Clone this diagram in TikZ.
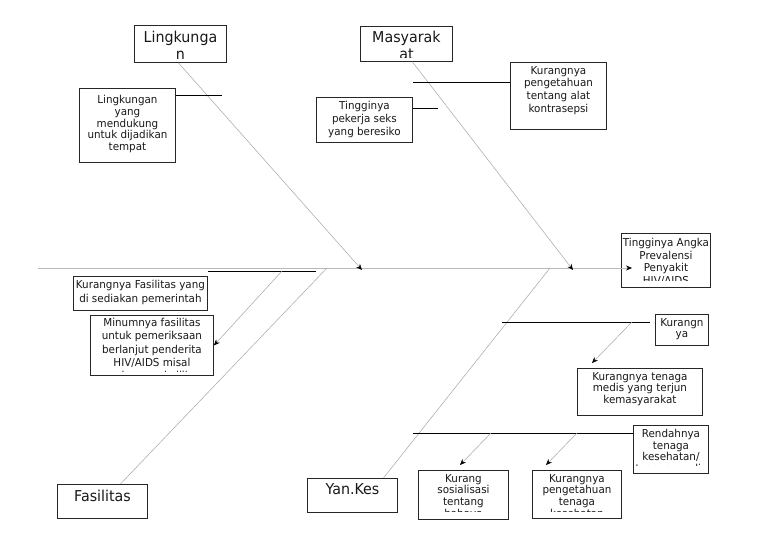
\documentclass[tikz,border=0pt]{standalone}
\usepackage{fontspec}
\setmainfont{DejaVu Sans}[FakeStretch=0.95]
\usetikzlibrary{arrows.meta}
\tikzset{
  boxst/.style={draw=black!85, line width=0.9pt, inner sep=0pt, anchor=north west},
  bone/.style={draw=gray!70, line width=0.5pt},
  twig/.style={draw=black, line width=0.9pt},
  arr/.style={-{Stealth[length=6pt,width=5pt,black]}},
  small/.style={font=\fontsize{10.9}{#1}\selectfont},
  big/.style={font=\fontsize{15}{17}\selectfont}
}
% #1 name, #2 x1, #3 y1, #4 x2, #5 y2, #6 top offset, #7 text style, #8 text, #9 bottom clip inset
\newcommand\fishbox[9]{%
  \node[boxst, minimum width=#4pt-#2pt, minimum height=#5pt-#3pt] (#1) at (#2,#3) {};
  \begin{scope}
    \clip ([yshift=#9pt]#1.south west) rectangle (#1.north east);
    \node[anchor=north, align=center, inner sep=0pt, text=black!90, #7] at ([yshift=-#6pt]#1.north) {#8};
  \end{scope}}
\begin{document}
\begin{tikzpicture}[x=1pt,y=-1pt]
\fill[white] (0,0) rectangle (768,543);
\useasboundingbox (0,0) rectangle (768,543);

% boxes
\fishbox{ling}{134}{25}{226}{62}{6}{big}{Lingkunga\\n}{4}
\fishbox{masy}{360}{26}{452}{61}{5}{big}{Masyarak\\at}{4}
\fishbox{fasil}{57}{484}{147}{518}{6}{big}{Fasilitas}{2}
\fishbox{yankes}{307}{478}{397}{512}{5}{big}{Yan.Kes}{2}
\fishbox{effect}{621}{233}{710}{287}{5}{small=12.7}{Tingginya Angka\\Prevalensi\\Penyakit\\HIV/AIDS}{7}
\fishbox{lingsub}{79}{88}{175}{162}{7}{small=11.8}{Lingkungan\\yang\\mendukung\\untuk dijadikan\\tempat}{2}
\fishbox{peksub}{316}{97}{412}{142}{4}{small=13}{Tingginya\\pekerja seks\\yang beresiko}{2}
\fishbox{alatsub}{510}{62}{606}{129}{4}{small=12.8}{Kurangnya\\pengetahuan\\tentang alat\\kontrasepsi}{2}
\fishbox{fassub}{73}{276}{207}{310}{4}{small=14}{Kurangnya Fasilitas yang\\di sediakan pemerintah}{2}
\fishbox{minsub}{90}{315}{213}{375}{3}{small=13.3}{Minumnya fasilitas\\untuk pemeriksaan\\berlanjut penderita\\HIV/AIDS misal\\puskesmas keliling}{4}
\fishbox{kur1}{655}{314}{708}{345}{4}{small=11.7}{Kurangn\\ya}{2}
\fishbox{medis}{577}{368}{702}{415}{4}{small=11.7}{Kurangnya tenaga\\medis yang terjun\\kemasyarakat}{2}
\fishbox{rendah}{633}{425}{708}{473}{4}{small=11.7}{Rendahnya\\tenaga\\kesehatan/\\tenaga medis}{8}
\fishbox{sosial}{418}{470}{508}{519}{4}{small=11.7}{Kurang\\sosialisasi\\tentang\\bahaya}{8}
\fishbox{tenaga}{532}{470}{621}{518}{4}{small=11.7}{Kurangnya\\pengetahuan\\tenaga\\kesehatan}{7}

% coordinates
\coordinate (spineL) at (38,268);
\coordinate (spineR) at (632,268);
\coordinate (hL) at (362,270);
\coordinate (hM) at (573,270);
\coordinate (hF) at (327,268);
\coordinate (hY) at (550,268);
\coordinate (b1) at (222,95);
\coordinate (b2) at (438,108);
\coordinate (b3) at (413,82);
\coordinate (b4) at (316,271);
\coordinate (b4s) at (282,271);
\coordinate (b5) at (502,322);
\coordinate (b5e) at (650,322);
\coordinate (b5s) at (632,322);
\coordinate (b5t) at (592,363);
\coordinate (b6) at (413,433);
\coordinate (b6a) at (491,433);
\coordinate (b6at) at (460,465);
\coordinate (b6b) at (577,433);
\coordinate (b6bt) at (546,465);

% spine
\draw[bone, draw=gray!55, arr] (spineL) -- (spineR);

% main bones
\draw[bone, arr] ([xshift=-2pt]ling.south) -- (hL);
\draw[bone, arr] ([xshift=6pt]masy.south) -- (hM);
\draw[bone] ([xshift=18pt]fasil.north) -- (hF);
\draw[bone] ([xshift=31pt]yankes.north) -- (hY);

% sub-cause twigs
\draw[twig] (b1) -- (b1 -| lingsub.east);
\draw[twig] (b2) -- (b2 -| peksub.east);
\draw[twig] (b3) -- (b3 -| alatsub.west);
\draw[twig] (b4) -- (b4 -| fassub.east);
\draw[bone, arr] (b4s) -- (minsub.east);
\draw[twig] (b5) -- (b5e);
\draw[bone, arr] (b5s) -- (b5t);
\draw[twig] (b6) -- (b6 -| rendah.west);
\draw[bone, arr] (b6a) -- (b6at);
\draw[bone, arr] (b6b) -- (b6bt);
\end{tikzpicture}
\end{document}
